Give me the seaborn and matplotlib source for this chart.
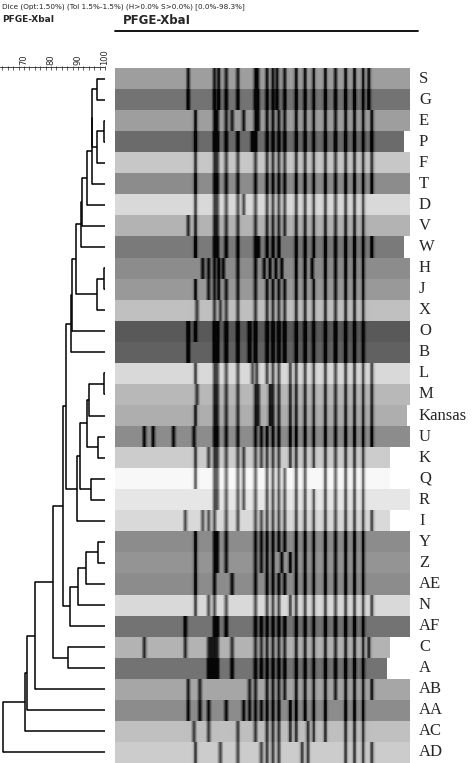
import numpy as np
import pandas as pd
import matplotlib
matplotlib.use("Agg")
import matplotlib.pyplot as plt
import seaborn as sns

sns.set_style("white")
plt.rcParams['font.family'] = ['DejaVu Sans']

strains = ["S","G","E","P","F","T","D","V","W","H","J","X","O","B","L","M","Kansas",
           "U","K","Q","R","I","Y","Z","AE","N","AF","C","A","AB","AA","AC","AD"]
lane_bg = [.62,.45,.62,.42,.78,.55,.85,.70,.48,.55,.60,.75,.35,.38,.85,.72,.68,
           .55,.80,.97,.90,.85,.55,.58,.55,.85,.45,.70,.45,.65,.55,.75,.80]
lane_end = [101,101,101,99,101,101,101,101,99,101,101,101,101,101,101,101,100,
            101,94,94,101,94,101,101,101,101,101,94,93,101,101,101,101]
bands = {
 "S":[25,34,35.5,38,42,48,48.8,52,54,55.5,58,62,65,68,72,75.5,79,82,85,87],
 "G":[25,34,35.5,38,42,48,48.8,52,54,55.5,58,62,65,68,72,75.5,79,82,85,87],
 "E":[27.5,34,35,38,40,44,48,49,52,54,56,58,62,65,68,72,75.5,79,82,85,88],
 "P":[27.5,34,35,38,42,47,48,52,54,56,58,62,65,68,72,75.5,79,82,85,88],
 "F":[27.5,34,35,38,42,48,52,54,56,58,62,65,68,72,75.5,79,82,85,88],
 "T":[27.5,34,35,38,42,48,52,54,56,58,62,65,68,72,75.5,79,82,85,88],
 "D":[27.5,34,35,38,42,44,48,52,54,56,58,62,65,68,72,75.5,79,82,85],
 "V":[25,27.5,34,35,38,42,48,52,54,56,58,62,65,68,72,75.5,79,82,85],
 "W":[27.5,34,35,38,42,48,49,52,54,56,62,65,68,72,75.5,79,82,85,88],
 "H":[30,32,34,35.5,37,42,48,51,53,55,57,62,65,67.5,72,75.5,79,82,85],
 "J":[27.5,32,34,35.5,38,42,48,52,54,56,58,62,65,68,72,75.5,79,82,85],
 "X":[28,34,36,38,42,48,52,54,56,58,62,65,68,72,75.5,79,82,85],
 "O":[25,27.5,34,35,38,42,46,48,52,54,56,58,62,65,68,72,75.5,79,82,85],
 "B":[25,34,35,38,42,46,48,52,54,56,58,62,65,68,72,75.5,79,82,85],
 "L":[27.5,34,35,38,42,47,48.5,52,54,56,60,62,65,68,72,75.5,79,82,85,88],
 "M":[28,34,35,38,42,48,49,53,54,56,60,62,65,68,72,75.5,79,82,85,88],
 "Kansas":[27.5,34,35,38,42,48,49,53,54,56,60,62,65,68,72,75.5,79,82,85,88],
 "U":[10,13,20,27,34,35,38,42,48,50,52,54,56,60,62,65,68,72,75.5,79,82,85,88],
 "K":[27.5,32,34,35,38,42,44,48,50,52,54,56,60,62,65,68,72,75.5,79,82,85],
 "Q":[27.5,34,35,38,42,44,48,52,54,56,58,62,65,72,75.5,79,82,85],
 "R":[34,35,38,42,44,48,52,54,56,58,62,65,68,72,75.5,79,82,85],
 "I":[24,30,32,34,38,42,48,50,52,54,56,58,62,65,68,72,75.5,79,82,85,88],
 "Y":[27.5,34,35,38,48,50,52,54,56,58,62,65,68,72,75.5,79,82,85],
 "Z":[27.5,34,35,38,48,50,52,54,57,60,62,65,68,72,75.5,79,82,85],
 "AE":[27.5,34,40,48,52,54,56,58,62,65,68,72,75.5,79,82,85],
 "N":[27.5,32,34,38,48,52,54,56,60,62,65,68,72,75.5,79,82,85,88],
 "AF":[24,34,35,38,48,50,52,54,56,58,62,65,68,72,75.5,79,82,85],
 "C":[10,24,32,33,34,35,40,48,50,52,54,56,58,62,65,68,72,75.5,79,82,85,87],
 "A":[32,33,34,35,40,48,50,52,54,56,58,62,65,68,72,75.5,79,82,85],
 "AB":[25,29,46,48,52,54,56,58,62,65,68,72,75.5,79,82,85,88],
 "AA":[25,29,32,38,44,46,48,50,52,54,56,60,62,65,68,72,79,82,85],
 "AC":[27,32,42,48,52,54,56,60,62,66,68,72,79,82,85],
 "AD":[27.5,36,42,50,52,54,56,64,66,79,82,85,88],
}
# merges: (child a, child b, similarity %)  ; ints refer to earlier merges
merges = [
 ("S","G",96.9),("E","P",99.6),(1,"F",96.9),(0,2,95.3),(3,"T",95.0),(4,"D",93.2),
 (5,"V",91.4),(6,"W",91.1),("H","J",99.6),(8,"X",96.9),(7,9,89.2),(10,"O",87.7),
 (11,"B",87.4),
 ("L","M",99.6),(13,"Kansas",94.1),("U","K",97.5),(14,15,93.2),("Q","R",94.8),
 (16,17,90.7),(18,"I",89.5),
 ("Y","Z",97.3),(20,"AE",93.0),(21,"N",90.1),(22,"AF",87.0),
 (12,19,85.6),(24,23,84.6),("C","A",86.4),(25,26,80.9),(27,"AB",74.1),
 (28,"AA",71.0),(29,"AC",70.4),(30,"AD",62.1),
]

W, H = 474, 763
fig = plt.figure(figsize=(W/100, H/100), dpi=100)
def ax_px(x0, y0, x1, y1):
    return fig.add_axes([x0/W, 1-y1/H, (x1-x0)/W, (y1-y0)/H])

n = len(strains)
# ---- gel image ----
pos = np.linspace(0, 101.6, 400)
img = np.zeros((n, pos.size))
for i, s in enumerate(strains):
    row = np.full(pos.size, lane_bg[i])
    for b in bands[s]:
        row -= 0.55*np.exp(-0.5*((pos-b)/0.45)**2)
    row[pos > lane_end[i]] = 1.0
    img[i] = np.clip(row, 0.02, 1)
df = pd.DataFrame(img, index=strains)
gax = ax_px(115, 68, 412, 763)
sns.heatmap(df, cmap="gray", vmin=0, vmax=1, cbar=False, ax=gax,
            xticklabels=False, yticklabels=False)
gax.set_xlabel(""); gax.set_ylabel("")
for i, s in enumerate(strains):
    fig.text(419/W, 1-(68+(i+0.5)*(695/n))/H, s, family="Liberation Serif",
             fontsize=12, va="center", ha="left")

# ---- dendrogram ----
dax = ax_px(0, 68, 105, 763)
dax.set_xlim(61.1, 100); dax.set_ylim(n, 0); dax.axis("off")
ypos = {s: i+0.5 for i, s in enumerate(strains)}
xpos = {s: 100.0 for s in strains}
for k, (a, b, h) in enumerate(merges):
    pts = []
    for c in (a, b):
        y, x = ypos[c], xpos[c]
        dax.plot([h, x], [y, y], color="black", lw=1.1, solid_capstyle="butt")
        pts.append(y)
    dax.plot([h, h], pts, color="black", lw=1.1)
    ypos[k] = sum(pts)/2; xpos[k] = h

# scale axis
sax = ax_px(0, 66, 105, 67)
sax.set_xlim(61.1, 100); sax.set_ylim(0, 1)
for sp in ["top","left","right"]:
    sax.spines[sp].set_visible(False)
sax.spines["bottom"].set_linewidth(0.6)
sax.set_yticks([])
sax.set_xticks([70, 80, 90, 100])
sax.set_xticks(np.arange(62, 100, 2), minor=True)
sax.xaxis.set_ticks_position("top")
sax.tick_params(axis="x", which="both", direction="in", length=3, width=0.5,
                labelsize=6, pad=1, labelrotation=90, top=True, bottom=False,
                labeltop=True, labelbottom=False)

# header
fig.text(2/W, 1-7/H, "Dice (Opt:1.50%) (Tol 1.5%-1.5%) (H>0.0% S>0.0%) [0.0%-98.3%]",
         fontsize=5.2, va="center", ha="left", color="#222222")
fig.text(2/W, 1-20/H, "PFGE-XbaI", fontsize=6.5, weight="bold", va="center", ha="left")
fig.text(123/W, 1-21/H, "PFGE-XbaI", fontsize=8.5, weight="bold", va="center", ha="left")
fig.add_artist(plt.Line2D([115/W, 418/W], [1-31/H, 1-31/H], color="black", lw=1.3))

fig.savefig("out.png", dpi=100)
